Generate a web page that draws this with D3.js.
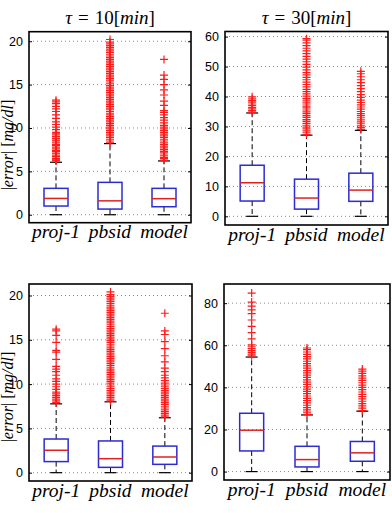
<!DOCTYPE html>
<html>
<head>
<meta charset="utf-8" />
<title>error boxplots</title>
<script src="https://cdnjs.cloudflare.com/ajax/libs/d3/7.8.5/d3.min.js"></script>
<style>
  body { margin: 0; background: #fff; }
  svg { display: block; }
  .tick text { font-family: "Liberation Sans", Arial, sans-serif; font-size: 12.5px; fill: #000; }
  .serif { font-family: "Liberation Serif", "DejaVu Serif", serif; fill: #000; }
</style>
</head>
<body>
<div id="chart"></div>
<script>
  // categories and tick labels
  const categories = ["proj-1", "pbsid", "model"];
  const tauValues = ["10", "30"];
  const yTicks = [
    [0, 5, 10, 15, 20],
    [0, 10, 20, 30, 40, 50, 60],
    [0, 5, 10, 15, 20],
    [0, 20, 40, 60, 80]
  ];

  // box statistics per panel (TL, TR, BL, BR), one value per category
  const whiskLo = [[0, 0, 0], [0, 0, 0], [0, 0, 0], [0, 0, 0]];
  const q1 = [[1.0, 0.65, 0.92], [5.1, 2.4, 5.0], [1.25, 0.6, 0.94], [9.8, 2.2, 4.9]];
  const median = [[1.88, 1.6, 1.85], [11.2, 6.1, 8.75], [2.53, 1.58, 1.77], [19.65, 5.7, 8.9]];
  const q3 = [[3.04, 3.73, 3.04], [17.05, 12.4, 14.4], [3.8, 3.58, 3.0], [27.7, 12.0, 14.3]];
  const whiskHi = [[6.05, 8.2, 6.2], [34.5, 27.1, 28.7], [7.77, 8.0, 6.2], [54.4, 26.9, 28.7]];

  // outliers
  const outTL = [
    [6.2, 6.3, 6.4, 6.5, 6.7, 6.8, 7.0, 7.1, 7.3, 7.4, 7.6, 7.8, 8.0, 8.1, 8.3, 8.5, 8.6, 8.8, 9.0, 9.2, 9.4, 9.5, 9.8,
     10.1, 10.4, 10.7, 11.1, 11.5, 11.9, 12.2, 12.5, 12.8, 13.0, 13.2],
    [8.3, 8.5, 8.7, 8.9, 9.1, 9.3, 9.5, 9.7, 9.9, 10.1, 10.3, 10.5, 10.7, 10.9, 11.1, 11.3, 11.5, 11.7, 11.9, 12.1,
     12.3, 12.5, 12.7, 12.9, 13.1, 13.3, 13.5, 13.7, 13.9, 14.1, 14.3, 14.5, 14.7, 14.9, 15.1, 15.3, 15.5, 15.7, 15.9,
     16.1, 16.3, 16.5, 16.7, 16.9, 17.1, 17.3, 17.5, 17.7, 17.9, 18.1, 18.3, 18.5, 18.7, 18.9, 19.1, 19.3, 19.5, 19.7,
     19.9, 20.2],
    [6.3, 6.5, 6.6, 6.8, 7.0, 7.2, 7.3, 7.5, 7.7, 7.9, 8.1, 8.3, 8.5, 8.7, 8.9, 9.1, 9.3, 9.5, 9.7, 9.9, 10.1, 10.3,
     10.6, 10.9, 11.2, 11.5, 11.8, 12.0, 12.6, 13.1, 13.8, 14.4, 15.0, 15.6, 16.1, 17.9]
  ];
  const outTR = [
    [34.8, 35.3, 35.9, 36.4, 37.0, 37.5, 38.1, 38.6, 39.2, 39.9],
    [27.3, 27.9, 28.5, 29.2, 29.8, 30.4, 31.0, 31.7, 32.3, 33.0, 33.6, 34.3, 34.9, 35.5, 36.2, 36.8, 37.5, 38.1, 38.8,
     39.4, 40.1, 40.9, 41.6, 42.4, 43.2, 44.0, 44.8, 45.6, 46.4, 47.2, 48.0, 48.9, 49.8, 50.7, 51.6, 52.5, 53.4, 54.3,
     55.2, 56.1, 57.0, 57.9, 58.8, 59.3],
    [29.0, 29.6, 30.2, 30.9, 31.5, 32.2, 32.9, 33.6, 34.3, 35.0, 35.8, 36.5, 37.2, 38.0, 38.8, 39.7, 40.6, 41.6, 42.6,
     43.6, 44.6, 45.6, 46.6, 47.6, 48.4]
  ];
  const outBL = [
    [7.9, 8.1, 8.3, 8.5, 8.7, 8.9, 9.1, 9.4, 9.7, 10.0, 10.3, 10.6, 11.0, 11.4, 11.7, 12.0, 12.8, 13.6, 13.8, 14.7,
     15.5, 16.0, 16.2],
    [8.1, 8.3, 8.5, 8.7, 8.9, 9.1, 9.3, 9.5, 9.7, 9.9, 10.1, 10.3, 10.5, 10.7, 10.9, 11.1, 11.3, 11.5, 11.7, 11.9, 12.1,
     12.3, 12.5, 12.7, 12.9, 13.1, 13.3, 13.5, 13.7, 13.9, 14.1, 14.3, 14.5, 14.7, 14.9, 15.1, 15.3, 15.5, 15.7, 15.9,
     16.1, 16.3, 16.5, 16.7, 16.9, 17.1, 17.3, 17.5, 17.7, 17.9, 18.1, 18.3, 18.5, 18.7, 18.9, 19.1, 19.3, 19.5, 19.7,
     19.9, 20.1, 20.4],
    [6.3, 6.5, 6.7, 6.9, 7.1, 7.3, 7.5, 7.7, 7.9, 8.1, 8.3, 8.5, 8.7, 8.9, 9.1, 9.3, 9.5, 9.7, 9.9, 10.1, 10.4, 10.7,
     11.0, 11.4, 11.8, 12.5, 13.2, 14.0, 14.8, 15.6, 16.0, 18.0]
  ];
  const outBR = [
    [55.0, 55.8, 56.6, 57.5, 58.4, 59.3, 60.2, 63.0, 66.0, 69.0, 72.0, 75.0, 76.8, 78.6, 80.5, 84.8],
    [27.2, 28.2, 29.3, 30.4, 31.5, 32.6, 33.7, 34.8, 35.9, 37.0, 38.1, 39.2, 40.3, 41.4, 42.5, 43.6, 44.7, 45.8, 46.9,
     48.0, 49.1, 50.2, 51.3, 52.4, 53.5, 54.6, 55.7, 56.8, 57.9, 58.7],
    [29.0, 30.1, 31.2, 32.3, 33.4, 34.5, 35.6, 36.7, 37.8, 38.9, 40.0, 41.1, 42.2, 43.3, 44.4, 45.5, 46.6, 47.7, 48.7]
  ];
  const outliers = [outTL, outTR, outBL, outBR];
  const yDomains = [[-0.92, 21.1], [-2.9, 61.7], [-0.94, 21.3], [-4.0, 89.1]];

  // layout: axes frame boxes [left, top, right, bottom]
  const frames = [
    [29, 31.7, 191, 222.7],
    [225, 31.5, 388, 225],
    [29, 284, 192, 481],
    [224, 284, 390, 480]
  ];

  const W = 392, H = 513;
  const svg = d3.select("#chart").append("svg").attr("width", W).attr("height", H);

  frames.forEach((f, p) => {
    const [l, t, r, b] = f;
    const x = d3.scaleLinear().domain([0.5, 3.5]).range([l, r]);
    const y = d3.scaleLinear().domain(yDomains[p]).range([b, t]);
    const g = svg.append("g");

    // dotted grid
    g.selectAll(".grid").data(yTicks[p]).enter().append("line")
      .attr("x1", l).attr("x2", r)
      .attr("y1", d => y(d)).attr("y2", d => y(d))
      .attr("stroke", "#8a8a8a").attr("stroke-width", 1)
      .attr("stroke-dasharray", "1,3");

    // y axis, ticks pointing inward
    const axL = g.append("g").attr("transform", `translate(${l},0)`)
      .call(d3.axisLeft(y).tickValues(yTicks[p]).tickSize(-3).tickPadding(6));
    axL.select(".domain").remove();
    axL.selectAll(".tick line").attr("stroke", "#000");
    const axR = g.append("g").attr("transform", `translate(${r},0)`)
      .call(d3.axisRight(y).tickValues(yTicks[p]).tickSize(-3).tickFormat(""));
    axR.select(".domain").remove();
    axR.selectAll(".tick line").attr("stroke", "#000");

    const boxW = 24, capW = 12;
    categories.forEach((c, i) => {
      const cx = x(i + 1);
      // dashed whiskers
      g.append("line").attr("x1", cx).attr("x2", cx)
        .attr("y1", y(q3[p][i])).attr("y2", y(whiskHi[p][i]))
        .attr("stroke", "#000").attr("stroke-dasharray", "5,3");
      g.append("line").attr("x1", cx).attr("x2", cx)
        .attr("y1", y(q1[p][i])).attr("y2", y(whiskLo[p][i]))
        .attr("stroke", "#000").attr("stroke-dasharray", "5,3");
      // caps
      [whiskHi[p][i], whiskLo[p][i]].forEach(v => {
        g.append("line").attr("x1", cx - capW / 2).attr("x2", cx + capW / 2)
          .attr("y1", y(v)).attr("y2", y(v)).attr("stroke", "#000").attr("stroke-width", 1.2);
      });
      // box
      g.append("rect").attr("x", cx - boxW / 2).attr("width", boxW)
        .attr("y", y(q3[p][i])).attr("height", y(q1[p][i]) - y(q3[p][i]))
        .attr("fill", "none").attr("stroke", "#2b2bd6").attr("stroke-width", 1.5);
      // median
      g.append("line").attr("x1", cx - boxW / 2).attr("x2", cx + boxW / 2)
        .attr("y1", y(median[p][i])).attr("y2", y(median[p][i]))
        .attr("stroke", "#e02020").attr("stroke-width", 1.5);
      // outliers as "+"
      g.selectAll(null).data(outliers[p][i]).enter().append("path")
        .attr("d", d => `M${cx - 4},${y(d)}H${cx + 4}M${cx},${y(d) - 4}V${y(d) + 4}`)
        .attr("stroke", "#ff1a1a").attr("stroke-width", 1.2).attr("fill", "none");

      // category label
      g.append("text").attr("class", "serif")
        .attr("x", cx).attr("y", b + 15.5)
        .attr("text-anchor", "middle").attr("font-style", "italic").attr("font-size", 19.5)
        .text(c);
    });

    // frame
    g.append("rect").attr("x", l).attr("y", t).attr("width", r - l).attr("height", b - t)
      .attr("fill", "none").attr("stroke", "#000").attr("stroke-width", 1.6);

    // title on the top row
    if (p < 2) {
      const tt = svg.append("text").attr("class", "serif")
        .attr("x", (l + r) / 2).attr("y", 24).attr("text-anchor", "middle").attr("font-size", 19);
      tt.append("tspan").attr("font-style", "italic").text("τ");
      tt.append("tspan").attr("dx", 6).text("=");
      tt.append("tspan").attr("dx", 6).text(tauValues[p] + "[");
      tt.append("tspan").attr("font-style", "italic").text("min");
      tt.append("tspan").text("]");
    }

    // y label on the left column
    if (p % 2 === 0) {
      const cy = p === 0 ? 145 : 397;
      const yl = svg.append("text").attr("class", "serif")
        .attr("transform", `translate(13,${cy}) rotate(-90)`)
        .attr("text-anchor", "middle").attr("font-size", 16);
      yl.append("tspan").text("|");
      yl.append("tspan").attr("font-style", "italic").text("error");
      yl.append("tspan").text("| [");
      yl.append("tspan").attr("font-style", "italic").text("mg/dl");
      yl.append("tspan").text("]");
    }
  });
</script>
</body>
</html>
